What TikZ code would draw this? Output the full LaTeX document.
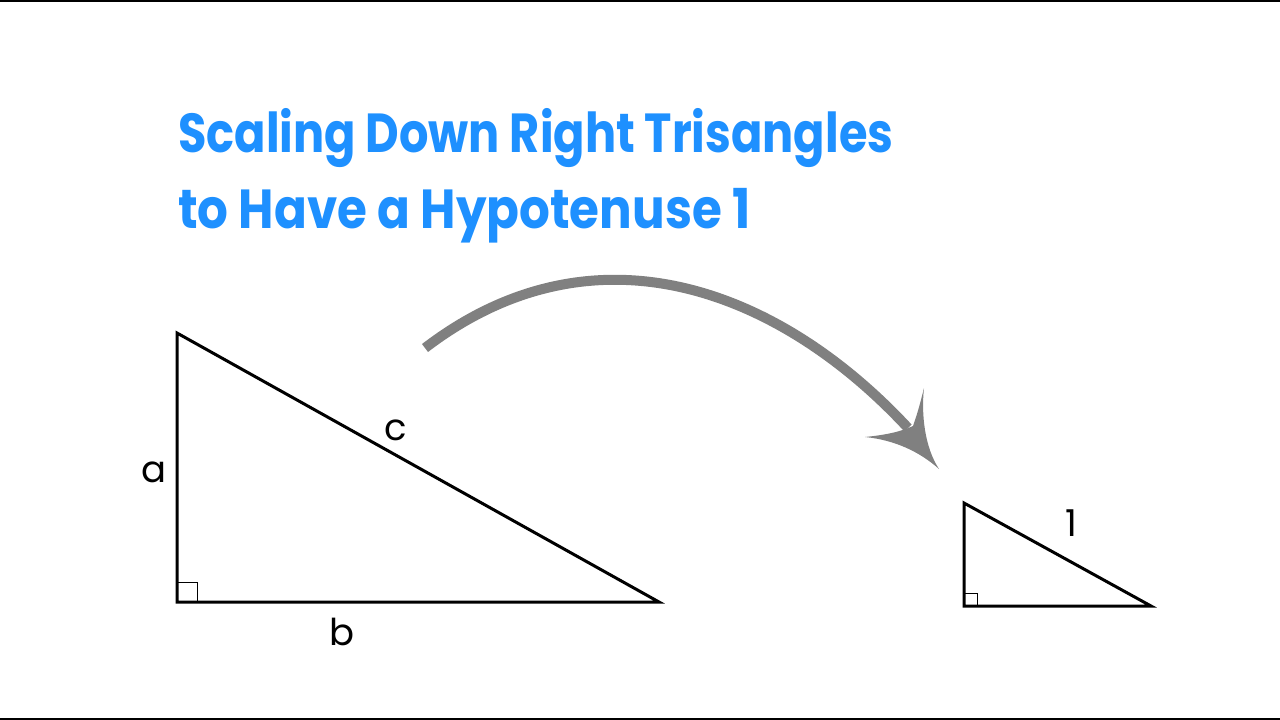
\documentclass[tikz,border=0pt]{standalone}
\usepackage{fontspec}
\setmainfont{Poppins}
\usetikzlibrary{positioning,calc}
\definecolor{titleblue}{RGB}{30,144,255}
\definecolor{arrowgray}{RGB}{128,128,128}
\tikzset{side/.style={line width=3pt},
         rightmark/.style={line width=1pt},
         lbl/.style={font=\fontsize{37}{40}\selectfont,inner sep=0pt},
         ttl/.style={anchor=base west,inner sep=0pt,text=titleblue,
           font=\fontsize{55}{60}\selectfont\bfseries}}
\newcommand{\narrow}[2]{\scalebox{#1}[1]{#2}}

\begin{document}
\begin{tikzpicture}[x=1pt,y=-1pt]
\useasboundingbox (0,0) rectangle (1280,720);
\fill[white] (0,0) rectangle (1280,720);
\draw[line width=2pt] (0,1) -- (1280,1) (0,719) -- (1280,719);
\node[ttl] (t1) at (178,152) {\narrow{0.841}{Scaling Down Right Trisangles}};
\node[ttl] (t2) at ($(t1.base west)+(0,76)$) {\narrow{0.88}{to Have a Hypotenuse 1}};
\coordinate (A) at (177,333);
\coordinate (B) at (177,602);
\coordinate (C) at (659,602);
\draw[side] (A) -- (B) -- (C) -- cycle;
\draw[rightmark] ($(B)+(0,-20)$) -| ($(B)+(20,0)$);
\node[lbl] (la) at (154,472) {a};
\node[lbl] (lb) at (342,632) {b};
\node[lbl] (lc) at (396,430) {c};
\coordinate (P) at (964,503);
\coordinate (Q) at (964,606);
\coordinate (R) at (1151,606);
\draw[side] (P) -- (Q) -- (R) -- cycle;
\draw[rightmark] ($(Q)+(0,-13)$) -| ($(Q)+(13,0)$);
\node[lbl] (l1) at (1071,523) {1};
\coordinate (s) at (425,348);
\coordinate (e) at (908,428);
\draw[arrowgray,line width=10pt] (s) .. controls (595,218) and (780,290) .. (e);
\fill[arrowgray] (939,469) .. controls (920,452) and (895,440) .. (865,437)
  .. controls (885,435) and (900,432) .. (913,426)
  .. controls (918,412) and (921,400) .. (924,388)
  .. controls (921,415) and (925,448) .. (939,469) -- cycle;
\end{tikzpicture}
\end{document}
